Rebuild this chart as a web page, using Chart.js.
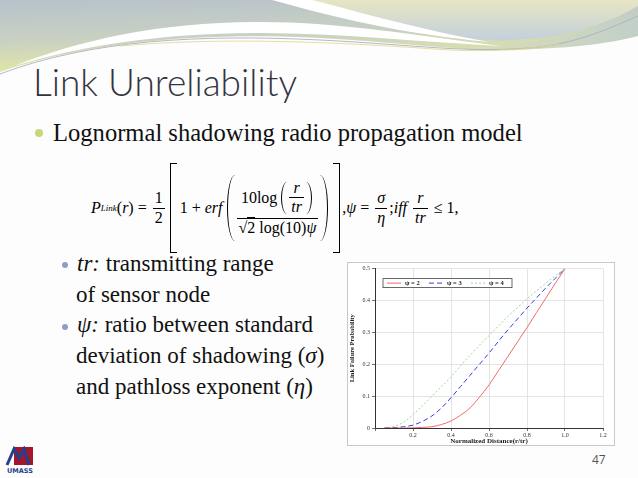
<!DOCTYPE html>
<html>
<head>
<meta charset="utf-8">
<script src="https://cdn.jsdelivr.net/npm/chart.js@4.4.1/dist/chart.umd.min.js"></script>
<style>
  html, body { margin: 0; padding: 0; }
  body { width: 638px; height: 478px; position: relative; overflow: hidden; background: #fdfdfd; }
  #deco { position: absolute; left: 0; top: 0; }
  .txt { position: absolute; white-space: nowrap; line-height: 1; }
  #title { font-family: Lato, sans-serif; font-weight: 300; font-size: 35px; color: #34343f; }
  .serif { font-family: "Liberation Serif", serif; color: #111; }
  #b1 { font-size: 24px; }
  .sub { font-size: 20px; }
  .dot { position: absolute; border-radius: 50%; }
  #eq { position: absolute; left: 91px; top: 163px; height: 90px; display: flex; align-items: center;
        font-family: "Liberation Serif", serif; font-size: 16px; color: #000; white-space: nowrap; }
  #eq i { font-style: italic; }
  .frac { display: inline-flex; flex-direction: column; align-items: center; margin: 0 2px; line-height: 1.15; }
  .frac > .den { border-top: 1px solid #000; padding: 0 2px; align-self: stretch; text-align: center; }
  .lbr, .rbr { display: inline-block; width: 6px; height: 88px; border: 1.2px solid #000; }
  .lbr { border-right: none; margin: 0 3px 0 3px; }
  .rbr { border-left: none; margin: 0 2px 0 3px; }
  .lpar, .rpar { display: inline-block; width: 7px; height: 66px; }
  .lpar { border-left: 1.2px solid #000; border-radius: 8px 0 0 8px / 33px 0 0 33px; margin-left: 4px; }
  .rpar { border-right: 1.2px solid #000; border-radius: 0 8px 8px 0 / 0 33px 33px 0; margin-right: 2px; }
  .lpar.s, .rpar.s { height: 32px; width: 5px; border-radius: 6px 0 0 6px / 16px 0 0 16px; }
  .rpar.s { border-radius: 0 6px 6px 0 / 0 16px 16px 0; }
  .num { display: inline-flex; align-items: center; padding-bottom: 1px; }
  .ov { border-top: 1px solid #000; padding-top: 1px; }
  #chartBox { position: absolute; left: 347px; top: 262px; width: 268px; height: 184px;
              border: 1px solid #c9c9c9; box-sizing: border-box; background: #fff; }
  #chart { display: block; }
  #page { font-family: "Open Sans", sans-serif; font-size: 12px; color: #555; }
  #logo { position: absolute; left: 5px; top: 446px; }
</style>
</head>
<body>
<svg id="deco" width="638" height="90" viewBox="0 0 638 90">
  <defs>
    <linearGradient id="gBase" x1="0" y1="0" x2="0.25" y2="1">
      <stop offset="0" stop-color="#b7c2cb"/>
      <stop offset="0.55" stop-color="#c9d1c2"/>
      <stop offset="1" stop-color="#e4e9a2"/>
    </linearGradient>
    <linearGradient id="gRight" x1="0" y1="0" x2="0" y2="1">
      <stop offset="0" stop-color="#e7e5c3"/>
      <stop offset="1" stop-color="#c3d0dc"/>
    </linearGradient>
    <linearGradient id="gLow" x1="0" y1="0" x2="1" y2="0">
      <stop offset="0" stop-color="#d9dfb8"/>
      <stop offset="1" stop-color="#c2cfc8"/>
    </linearGradient>
  </defs>
  <path d="M0,0 H638 V22 C600,40 560,48 520,50 C470,52 420,44 320,38 C220,33 100,38 0,72 Z" fill="url(#gBase)"/>
  <path d="M460,48 C540,46 600,30 638,14 V36 C600,46 540,52 460,48 Z" fill="url(#gLow)"/>
  <path d="M300,0 H638 V6 C600,28 560,38 510,40 C460,42 400,25 300,0 Z" fill="url(#gRight)"/>
  <path d="M272,0 C330,16 400,34 490,42 C420,30 360,12 312,0 Z" fill="#ffffff"/>
  <path d="M14,66 C80,40 160,22 260,22 C340,22 420,36 500,46 C420,42 340,33 260,33 C160,33 80,46 14,66 Z" fill="#ffffff"/>
  <path d="M0,74 C90,40 200,34 320,40 C420,45 470,54 540,47 C580,42 610,28 638,16" fill="none" stroke="#a9b1c2" stroke-width="0.9"/>
  <path d="M120,46 C220,37 330,42 420,48 C470,52 510,52 560,44" fill="none" stroke="#e2d48a" stroke-width="0.8"/>
</svg>

<div id="title" class="txt">Link Unreliability</div>

<div class="dot" style="left:35px;top:129px;width:8px;height:8px;background:#c9d67c;"></div>
<div id="b1" class="txt serif">Lognormal shadowing radio propagation model</div>

<div id="eq">
  <i>P</i><sub style="font-size:9px;"><i>Link</i></sub><span>(<i>r</i>)&nbsp;=&nbsp;</span>
  <span class="frac"><span>1</span><span class="den">2</span></span>
  <span class="lbr"></span>
  <span>1 + <i>erf</i></span>
  <span class="lpar"></span>
  <span class="frac">
    <span class="num">10log<span class="lpar s"></span><span class="frac"><i>r</i><span class="den"><i>tr</i></span></span><span class="rpar s"></span></span>
    <span class="den">&radic;<span class="ov">2</span> log(10)<i>&psi;</i></span>
  </span>
  <span class="rpar"></span>
  <span class="rbr"></span>
  <span>,<i>&psi;</i> =&nbsp;</span>
  <span class="frac"><i>&sigma;</i><span class="den"><i>&eta;</i></span></span>
  <span>;<i>iff</i>&nbsp;</span>
  <span class="frac"><i>r</i><span class="den"><i>tr</i></span></span>
  <span>&nbsp;&le; 1,</span>
</div>

<div class="dot" style="left:62px;top:262px;width:6px;height:6px;background:#8e9ec3;"></div>
<div id="s1" class="txt serif sub"><i>tr:</i> transmitting range</div>
<div id="s2" class="txt serif sub">of sensor node</div>
<div class="dot" style="left:62px;top:324px;width:6px;height:6px;background:#8e9ec3;"></div>
<div id="s3" class="txt serif sub"><i>&psi;:</i> ratio between standard</div>
<div id="s4" class="txt serif sub">deviation of shadowing (<i>&sigma;</i>)</div>
<div id="s5" class="txt serif sub">and pathloss exponent (<i>&eta;</i>)</div>

<div id="chartBox"><canvas id="chart" width="266" height="182"></canvas></div>

<svg id="logo" width="30" height="28" viewBox="0 0 30 28">
  <polygon points="9,1 28,1 28,19 9,19" fill="#a3162c"/>
  <path d="M2,19 L9,3 L14,12 L19,3 L24,19" fill="none" stroke="#22408c" stroke-width="3"/>
  <text x="15" y="27" font-family="DejaVu Sans" font-size="6.5" font-weight="bold" fill="#22408c" text-anchor="middle">UMASS</text>
</svg>

<div id="page" class="txt">47</div>

<script>
// values
const distance = [0.05, 0.1, 0.15, 0.2, 0.25, 0.3, 0.35, 0.4, 0.45, 0.5,
                  0.55, 0.6, 0.65, 0.7, 0.75, 0.8, 0.85, 0.9, 0.95, 1.0];
const psi2 = [0, 0, 0, 0.0005, 0.002, 0.004, 0.011, 0.022, 0.04, 0.063,
              0.097, 0.135, 0.18, 0.225, 0.27, 0.315, 0.362, 0.408, 0.455, 0.5];
const psi3 = [0, 0.001, 0.004, 0.009, 0.021, 0.038, 0.063, 0.095, 0.13, 0.165,
              0.2, 0.235, 0.272, 0.308, 0.342, 0.376, 0.408, 0.44, 0.47, 0.5];
const psi4 = [0, 0.005, 0.018, 0.042, 0.07, 0.1, 0.13, 0.16, 0.195, 0.228,
              0.26, 0.29, 0.32, 0.35, 0.378, 0.405, 0.43, 0.455, 0.478, 0.5];
const seriesLabels = ['\u03c8 = 2', '\u03c8 = 3', '\u03c8 = 4'];
const xTitle = 'Normalized Distance(r/tr)';
const yTitle = 'Link Failure Probability';

const toPoints = (ys) => distance.map((x, i) => ({ x: x, y: ys[i] }));

// legend box drawn inside the plot, like the original figure
const boxLegend = {
    id: 'boxLegend',
    afterDatasetsDraw(chart) {
        const { ctx, chartArea } = chart;
        const bx = chartArea.left + 8, by = chartArea.top + 10, bw = 129, bh = 9;
        ctx.save();
        ctx.fillStyle = '#fff';
        ctx.fillRect(bx, by, bw, bh);
        ctx.strokeStyle = '#444';
        ctx.lineWidth = 0.8;
        ctx.strokeRect(bx, by, bw, bh);
        ctx.font = 'bold 6.5px "Liberation Serif"';
        ctx.textBaseline = 'middle';
        chart.data.datasets.forEach((ds, i) => {
            const x0 = bx + 4 + i * 42;
            const my = by + bh / 2;
            ctx.beginPath();
            ctx.setLineDash(ds.borderDash || []);
            ctx.strokeStyle = ds.borderColor;
            ctx.lineWidth = 1;
            ctx.moveTo(x0, my);
            ctx.lineTo(x0 + 14, my);
            ctx.stroke();
            ctx.setLineDash([]);
            ctx.fillStyle = '#222';
            ctx.fillText(ds.label, x0 + 18, my + 0.5);
        });
        ctx.restore();
    }
};

function place(id, x, baseline, width, k) {
    const el = document.getElementById(id);
    let fs = parseFloat(getComputedStyle(el).fontSize);
    if (width) {
        const w = el.getBoundingClientRect().width;
        fs = fs * width / w;
        el.style.fontSize = fs + 'px';
    }
    el.style.left = x + 'px';
    el.style.top = (baseline - k * fs) + 'px';
}

document.fonts.ready.then(() => {
    place('title', 33, 96, 264, 0.887);
    place('b1', 53, 142, 470, 0.8375);
    place('s5', 76, 394, 237, 0.8375);
    const fs = document.getElementById('s5').style.fontSize;
    const subLines = [['s1', 77, 271], ['s2', 76, 302], ['s3', 77, 332], ['s4', 76, 363]];
    subLines.forEach(([id, x, base]) => {
        document.getElementById(id).style.fontSize = fs;
        place(id, x, base, 0, 0.8375);
    });
    place('page', 592, 467, 0, 1.069);

    const tickFont = { family: '"Liberation Serif", serif', size: 6 };
    const titleFont = { family: '"Liberation Serif", serif', size: 7, weight: 'bold' };

    new Chart(document.getElementById('chart').getContext('2d'), {
        type: 'line',
        data: {
            datasets: [{
                label: seriesLabels[0],
                data: toPoints(psi2),
                borderColor: '#f06b6b',
                borderWidth: 1,
                pointRadius: 0,
                cubicInterpolationMode: 'monotone'
            }, {
                label: seriesLabels[1],
                data: toPoints(psi3),
                borderColor: '#3a3ae4',
                borderWidth: 1,
                borderDash: [5, 3],
                pointRadius: 0,
                cubicInterpolationMode: 'monotone'
            }, {
                label: seriesLabels[2],
                data: toPoints(psi4),
                borderColor: '#8fe08f',
                borderWidth: 1,
                borderDash: [2, 2],
                pointRadius: 0,
                cubicInterpolationMode: 'monotone'
            }]
        },
        options: {
            responsive: false,
            animation: false,
            layout: { padding: { top: 4, right: 11, left: 0, bottom: 0 } },
            scales: {
                x: {
                    type: 'linear',
                    min: 0,
                    max: 1.2,
                    afterFit: (s) => { s.height = 17; },
                    ticks: {
                        stepSize: 0.2,
                        font: tickFont,
                        color: '#333',
                        padding: 1,
                        maxRotation: 0,
                        callback: (v) => (v === 0 ? '' : v.toFixed(1))
                    },
                    grid: { color: '#d9d9d9', lineWidth: 0.7, tickLength: 3, tickColor: '#333' },
                    border: { color: '#333' },
                    title: { display: true, text: xTitle, font: titleFont, color: '#222', padding: { top: 0, bottom: 0 } }
                },
                y: {
                    min: 0,
                    max: 0.5,
                    afterFit: (s) => { s.width = 27; },
                    ticks: {
                        stepSize: 0.1,
                        font: tickFont,
                        color: '#333',
                        padding: 2,
                        callback: (v) => (v === 0 ? '0' : v.toFixed(1))
                    },
                    grid: { color: '#d9d9d9', lineWidth: 0.7, tickLength: 3, tickColor: '#333' },
                    border: { color: '#333' },
                    title: { display: true, text: yTitle, font: { family: '"Liberation Serif", serif', size: 6.5, weight: 'bold' }, color: '#222', padding: { top: 0, bottom: 1 } }
                }
            },
            plugins: {
                legend: { display: false },
                tooltip: { enabled: false }
            }
        },
        plugins: [boxLegend]
    });
});
</script>
</body>
</html>
